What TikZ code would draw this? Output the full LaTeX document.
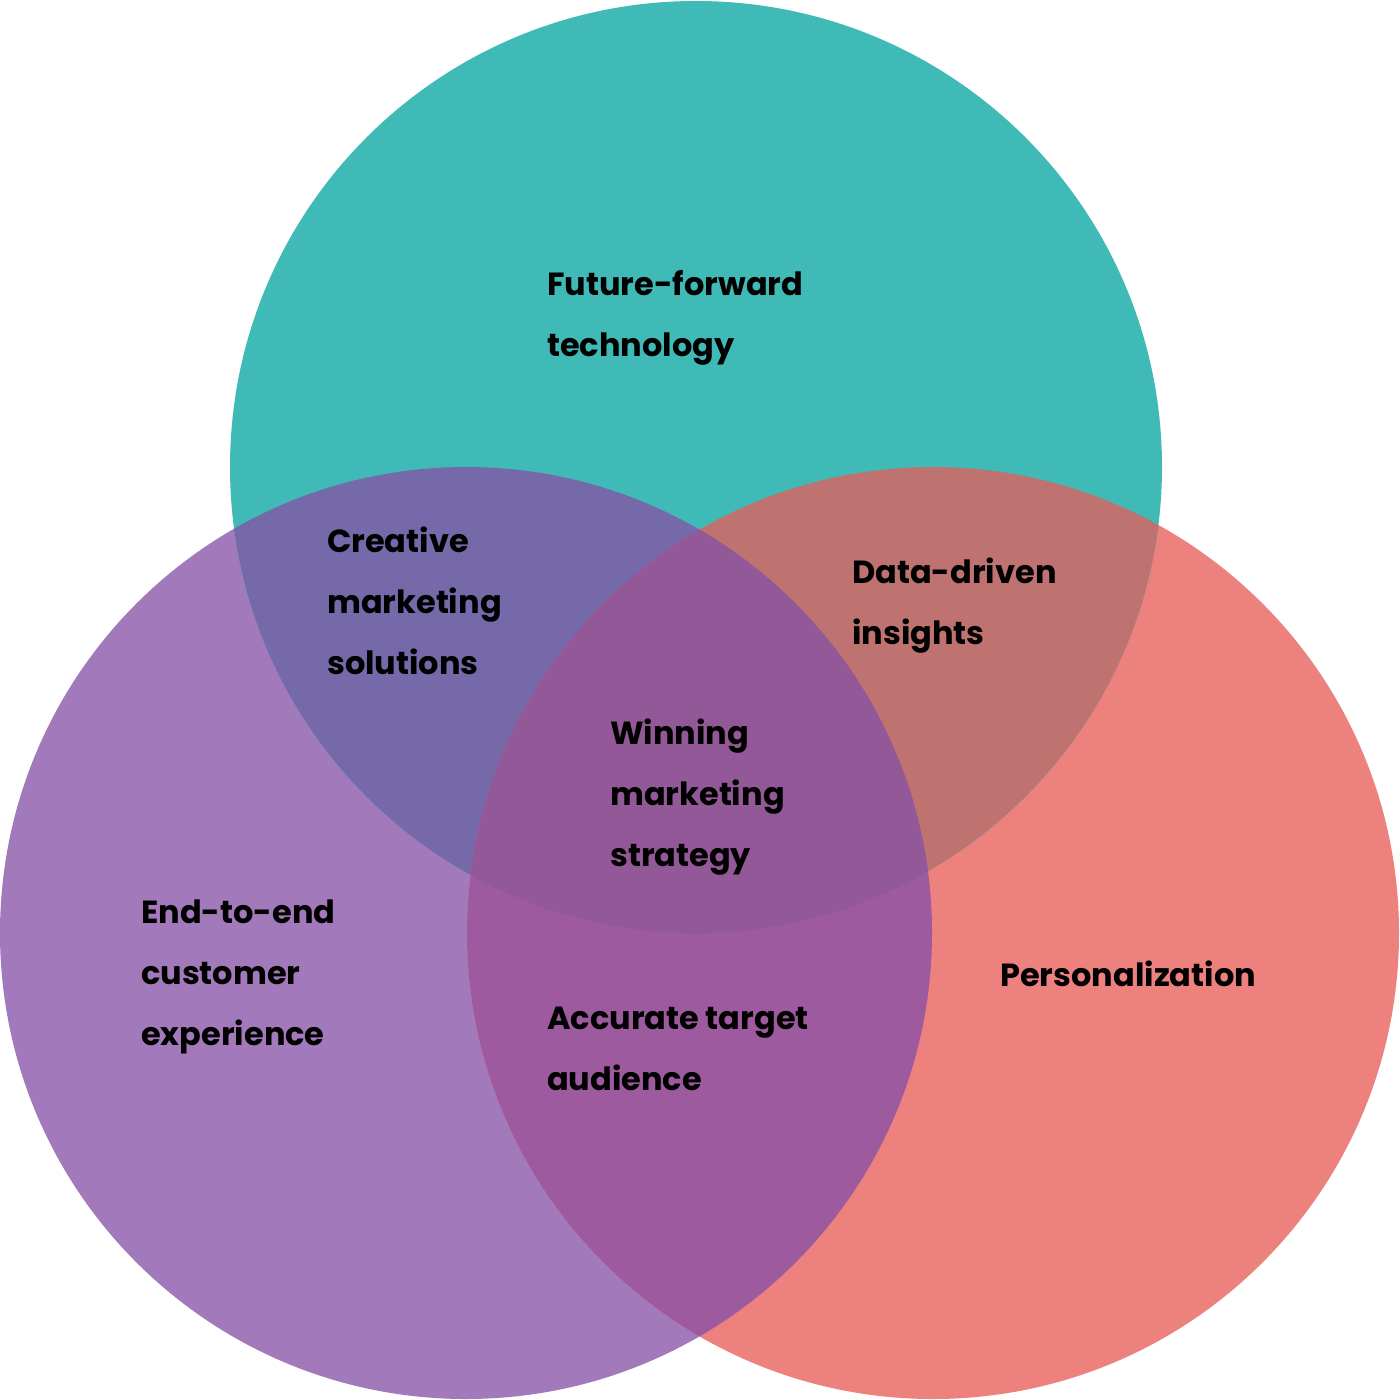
\documentclass[tikz,border=0pt]{standalone}
\usepackage{fontspec}
\setmainfont{Poppins}
\begin{document}
\begin{tikzpicture}[x=1pt,y=-1pt,
    lbl/.style={anchor=north west,inner sep=0pt,align=left,font=\fontsize{32}{61}\selectfont\bfseries}]
    \definecolor{tealc}{HTML}{40BAB7}
    \definecolor{purc}{HTML}{A279BA}
    \definecolor{redc}{HTML}{EC817E}
    \definecolor{tpc}{HTML}{7569AA}
    \definecolor{trc}{HTML}{BE7370}
    \definecolor{prc}{HTML}{9E5A9E}
    \definecolor{allc}{HTML}{935897}
    \useasboundingbox (0,0) rectangle (1400,1400);
    % Circles
    \fill[purc] (466,933) circle (466);
    \fill[redc] (933,933) circle (466);
    \fill[tealc] (696,467) circle (466);
    % Overlaps
    \begin{scope}
        \clip (696,467) circle (466);
        \fill[tpc] (466,933) circle (466);
        \fill[trc] (933,933) circle (466);
    \end{scope}
    \begin{scope}
        \clip (466,933) circle (466);
        \fill[prc] (933,933) circle (466);
        \clip (933,933) circle (466);
        \fill[allc] (696,467) circle (466);
    \end{scope}
    % Labels
    \node[lbl] (tech) at (547,270) {Future-forward\\technology};
    \node[lbl] (creative) at (327,527) {Creative\\marketing\\solutions};
    \node[lbl] (data) at (852,558) {Data-driven\\insights};
    \node[lbl] (win) at (610,719) {Winning\\marketing\\strategy};
    \node[lbl] (cx) at (141,900) {End-to-end\\customer\\experience};
    \node[lbl] (pers) at (1000,961) {Personalization};
    \node[lbl] (aud) at (547,1007) {Accurate target\\audience};
\end{tikzpicture}
\end{document}
